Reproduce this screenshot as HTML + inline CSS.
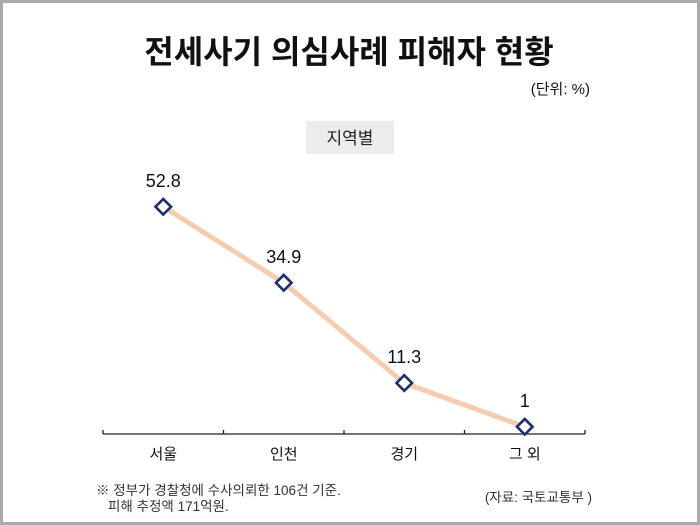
<!DOCTYPE html>
<html><head><meta charset="utf-8"><style>
html,body{margin:0;padding:0;}
body{width:700px;height:525px;position:relative;overflow:hidden;background:#fff;font-family:"Liberation Sans","Noto Sans CJK KR",sans-serif;}
#frame{position:absolute;left:0;top:0;width:694px;height:519px;border:3px solid #ababab;}
</style></head><body>
<div id="frame"></div>
<svg width="700" height="525" style="position:absolute;left:0;top:0" font-family="Liberation Sans, Noto Sans CJK KR, sans-serif">
<text x="349" y="63" text-anchor="middle" font-size="32" font-weight="bold" fill="#111">전세사기 의심사례 피해자 현황</text>
<text x="590" y="94" text-anchor="end" font-size="15" fill="#111">(단위: %)</text>
<rect x="306" y="121" width="88" height="33" fill="#ececec"/>
<text x="350" y="144" text-anchor="middle" font-size="17" fill="#222">지역별</text>
<g id="axis"></g>
<g id="marks"></g>
<text x="96" y="495" font-size="13.5" fill="#333">※ 정부가 경찰청에 수사의뢰한 106건 기준.</text>
<text x="108" y="511" font-size="13.5" fill="#333">피해 추정액 171억원.</text>
<text x="592" y="502" text-anchor="end" font-size="13.5" fill="#333">(자료: 국토교통부 )</text>
</svg>
<script>
const categories=["서울","인천","경기","그 외"];
const values=[52.8,34.9,11.3,1];
const labels=["52.8","34.9","11.3","1"];
const NS="http://www.w3.org/2000/svg";
const x0=103,x1=585,bw=(x1-x0)/categories.length;
const xs=i=>x0+bw*(i+0.5);
const ys=v=>431-v*4.247;
const axis=document.getElementById('axis'),marks=document.getElementById('marks');
function mk(t,a,p){const e=document.createElementNS(NS,t);for(const k in a)e.setAttribute(k,a[k]);p.appendChild(e);return e;}
const al=mk('line',{x1:x0,x2:x1,y1:434,y2:434,stroke:'#222','stroke-width':1.3},axis);


for(let i=0;i<=categories.length;i++){const t=mk('line',{x1:x0+bw*i,x2:x0+bw*i,y1:430,y2:434,stroke:'#222','stroke-width':1.3},axis);

}
categories.forEach((c,i)=>{const t=mk('text',{x:xs(i),y:459,'text-anchor':'middle','font-size':15,fill:'#111'},axis);t.textContent=c;

});
const pl=mk('polyline',{points:values.map((v,i)=>xs(i)+','+ys(v)).join(' '),fill:'none',stroke:'#f4cdb0','stroke-width':5,'stroke-linejoin':'round'},marks);


values.forEach((v,i)=>{const x=xs(i),y=ys(v);
const d=mk('rect',{x:x-5.5,y:y-5.5,width:11,height:11,fill:'#fff',stroke:'#1b2f6b','stroke-width':2.6,transform:`rotate(45 ${x} ${y})`},marks);


const t=mk('text',{x:x,y:y-20,'text-anchor':'middle','font-size':18,fill:'#111'},marks);t.textContent=labels[i];

});
</script>
</body></html>
